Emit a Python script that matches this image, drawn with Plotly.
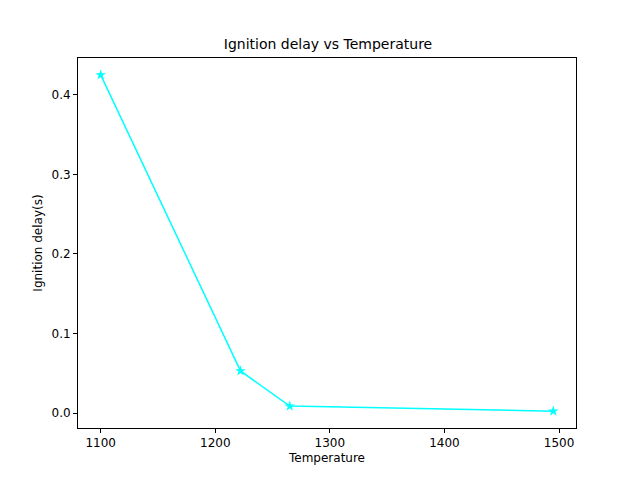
import plotly.graph_objects as go

temperature = [1100, 1222, 1265, 1495]
ignition_delay = [0.425, 0.053, 0.0088, 0.0025]

fig = go.Figure(go.Scatter(
    x=temperature, y=ignition_delay, mode="lines+markers",
    line=dict(color="cyan", width=1.5),
    marker=dict(symbol="star", size=8, color="cyan"),
))

axis_style = dict(showgrid=False, zeroline=False, showline=True, mirror=True,
                  linecolor="black", linewidth=1, ticks="outside", ticklen=4,
                  tickcolor="black", tickfont=dict(size=12, color="black"))

fig.update_xaxes(title=dict(text="Temperature", font=dict(size=12, color="black"), standoff=4),
                 range=[1080.2, 1514.8], tickvals=[1100, 1200, 1300, 1400, 1500], **axis_style)
fig.update_yaxes(title=dict(text="Ignition delay(s)", font=dict(size=12, color="black"), standoff=6),
                 range=[-0.0187, 0.4462], tickvals=[0, 0.1, 0.2, 0.3, 0.4],
                 tickformat=".1f", **axis_style)

fig.update_layout(
    width=640, height=480,
    title=dict(text="Ignition delay vs Temperature", x=0.5, xanchor="center",
               y=0.925, yanchor="middle", font=dict(size=14, color="black")),
    font=dict(family="DejaVu Sans"),
    plot_bgcolor="white", paper_bgcolor="white",
    showlegend=False,
    margin=dict(l=70, r=72, t=50, b=60),
)

fig.write_html("out.html")
